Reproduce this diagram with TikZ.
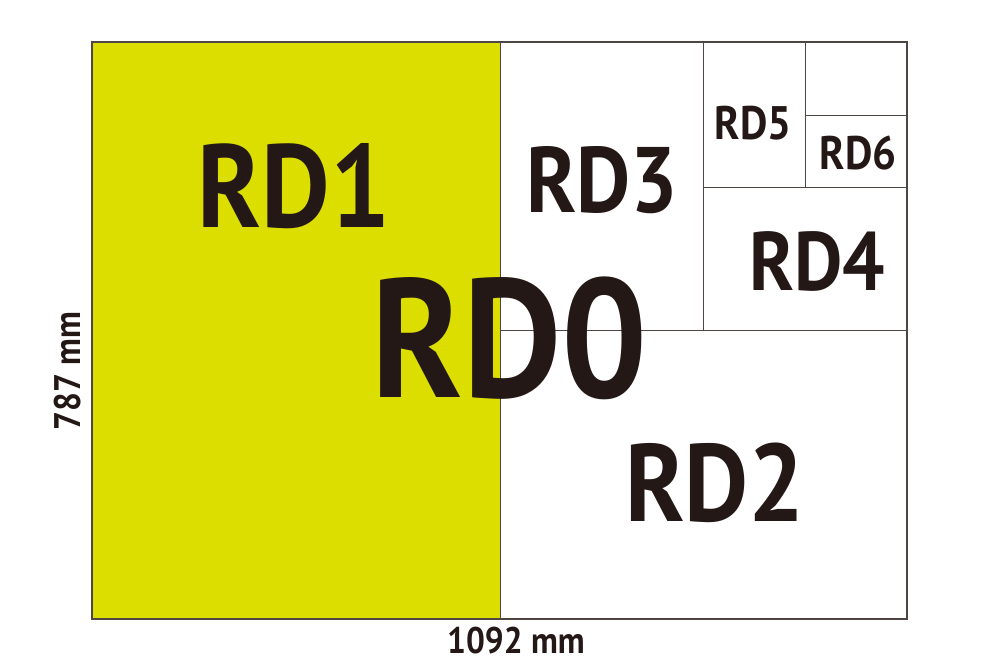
\documentclass[tikz,border=0pt]{standalone}
\usepackage{fontspec}
\setmainfont{PT Sans}[FakeStretch=0.9]
\definecolor{sheetyellow}{HTML}{DCDE00}
\definecolor{inkblack}{HTML}{231815}
\tikzstyle{sheet line}=[draw, line width=1pt, inkblack!80]
\tikzstyle{sheet label}=[inner sep=0pt, text=inkblack]
\newcommand{\labelfont}[1]{\bfseries\fontsize{#1}{#1}\selectfont}

\begin{document}
\begin{tikzpicture}[x=1pt, y=-1pt]
	\useasboundingbox (0,0) rectangle (1000,667);
	\fill[sheetyellow] (92,42) rectangle (500,619);
	% cuts of the sheet
	\foreach \from/\to in {{(500,42)/(500,619)}, {(500,330)/(907,330)}, {(703,42)/(703,330)},
			{(703,187)/(907,187)}, {(805,42)/(805,187)}, {(805,115)/(907,115)}}
		\path[sheet line] \from -- \to;
	\path[sheet line, line width=1.3pt] (92,42) rectangle (907,619);
	% sheet names
	\foreach \pos/\name/\size in {{(294,186)/RD1/118}, {(602,180)/RD3/93}, {(715,483)/RD2/110},
			{(817,261)/RD4/83}, {(753,123)/RD5/47}, {(858,153)/RD6/47}, {(510,338)/RD0/169}}
		\node[sheet label, font=\labelfont{\size}] (\name) at \pos {\name};
	\node[sheet label, font=\labelfont{37}] (width) at (516,641) {1092 mm};
	\node[sheet label, font=\labelfont{37}, rotate=90] (height) at (68,371) {787 mm};
\end{tikzpicture}
\end{document}
